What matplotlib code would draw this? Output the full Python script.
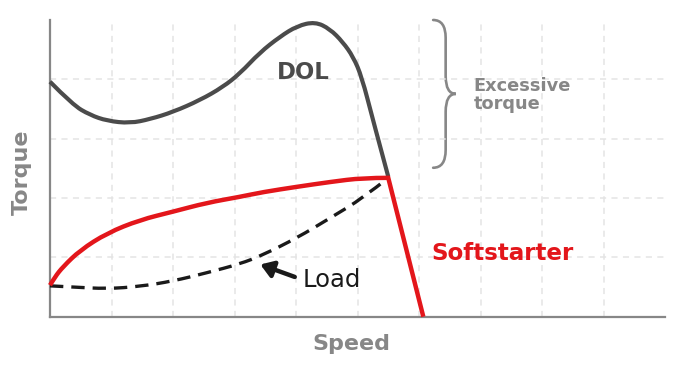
import matplotlib.pyplot as plt
from matplotlib.path import Path
from matplotlib.patches import PathPatch

# curves (speed, torque)
dol_speed = [0.00, 0.37, 0.65, 0.93, 1.30, 1.63, 2.00, 2.44, 2.81, 3.09, 3.41, 3.74,
             4.02, 4.31, 4.55, 4.76, 4.93, 5.07, 5.25, 5.50]
dol_torque = [3.96, 3.57, 3.40, 3.30, 3.26, 3.33, 3.45, 3.65, 3.87, 4.10, 4.45, 4.72,
              4.90, 4.97, 4.85, 4.63, 4.38, 4.04, 3.32, 2.36]

soft_speed = [0.00, 0.08, 0.21, 0.49, 0.93, 1.46, 2.00, 2.55, 3.09, 3.46, 4.02, 4.55,
              5.09, 5.50, 6.07]
soft_torque = [0.53, 0.67, 0.84, 1.12, 1.41, 1.63, 1.77, 1.92, 2.02, 2.10, 2.19, 2.27,
               2.34, 2.34, 0.00]

load_speed = [0.00, 0.37, 0.93, 1.46, 2.00, 2.55, 3.09, 3.46, 4.02, 4.55, 5.09, 5.50]
load_torque = [0.52, 0.50, 0.47, 0.51, 0.60, 0.74, 0.89, 1.04, 1.33, 1.66, 2.00, 2.34]

red = '#e3161b'
dark = '#4b4b4b'
grey = '#878787'
font = 'DejaVu Sans'


def smooth(xs, ys, tail=None):
    # quadratic spline through the read points, optional straight tail
    pts = list(zip(xs, ys))
    verts = [pts[0]]
    codes = [Path.MOVETO]
    for i in range(1, len(pts) - 1):
        nxt = pts[i + 1] if i + 1 == len(pts) - 1 else (
            (pts[i][0] + pts[i + 1][0]) / 2, (pts[i][1] + pts[i + 1][1]) / 2)
        verts += [pts[i], nxt]
        codes += [Path.CURVE3, Path.CURVE3]
    if tail:
        for p in tail:
            verts.append(p)
            codes.append(Path.LINETO)
    return Path(verts, codes)


fig = plt.figure(figsize=(6.76, 3.68), dpi=100)
ax = fig.add_axes([50 / 676, 51.3 / 368, 615 / 676, 296.7 / 368])
ax.set_xlim(0, 10)
ax.set_ylim(0, 5)

ax.set_xticks(range(1, 10))
ax.set_yticks(range(1, 5))
ax.tick_params(length=0, labelbottom=False, labelleft=False)
ax.grid(True, color='#e4e4e4', linestyle=(0, (4, 3.5)), linewidth=1.1)
for s in ['top', 'right']:
    ax.spines[s].set_visible(False)
for s in ['left', 'bottom']:
    ax.spines[s].set_color(grey)
    ax.spines[s].set_linewidth(1.6)

ax.add_patch(PathPatch(smooth(dol_speed, dol_torque), fill=False, edgecolor=dark,
                       lw=3.0, capstyle='butt', clip_on=False, zorder=3))
ax.add_patch(PathPatch(smooth(load_speed, load_torque), fill=False, edgecolor='#1a1a1a',
                       lw=2.4, linestyle=(0, (4.0, 2.4)), capstyle='butt',
                       clip_on=False, zorder=3))
ax.add_patch(PathPatch(smooth(soft_speed[:-1], soft_torque[:-1],
                              tail=[(soft_speed[-1], soft_torque[-1])]),
                       fill=False, edgecolor=red, lw=3.2, joinstyle='miter',
                       capstyle='butt', clip_on=False, zorder=4))

ax.text(3.69, 4.0, 'DOL', color=dark, fontsize=16.4, fontweight='bold', family=font)
ax.text(6.20, 0.96, 'Softstarter', color=red, fontsize=16.6, fontweight='bold', family=font)
ax.text(4.11, 0.50, 'Load', color='#1a1a1a', fontsize=17.5, family=font)
ax.text(6.89, 3.74, 'Excessive\ntorque', color=grey, fontsize=12.8, fontweight='bold',
        family=font, va='center', linespacing=1.0)

ax.annotate('', xy=(3.42, 0.88), xytext=(3.98, 0.67),
            arrowprops=dict(arrowstyle='-|>,head_length=0.75,head_width=0.5',
                            color='#1a1a1a', lw=3.2, shrinkA=0, shrinkB=0))

# curly brace next to the excessive torque region
bx, top, bot, w = 6.23, 5.0, 2.51, 0.37
mid = (top + bot) / 2
verts = [(bx, top), (bx + w * 0.55, top), (bx + w * 0.55, top - 0.3),
         (bx + w * 0.55, mid + 0.3),
         (bx + w * 0.55, mid), (bx + w, mid),
         (bx + w * 0.55, mid), (bx + w * 0.55, mid - 0.3),
         (bx + w * 0.55, bot + 0.3),
         (bx + w * 0.55, bot), (bx, bot)]
codes = [Path.MOVETO, Path.CURVE3, Path.CURVE3, Path.LINETO,
         Path.CURVE3, Path.CURVE3, Path.CURVE3, Path.CURVE3,
         Path.LINETO, Path.CURVE3, Path.CURVE3]
ax.add_patch(PathPatch(Path(verts, codes), fill=False, edgecolor=grey, lw=1.9,
                       capstyle='round', clip_on=False))

ax.set_xlabel('Speed', color=grey, fontsize=16, fontweight='bold', family=font, va='baseline')
ax.xaxis.set_label_coords(0.49, -0.112)
ax.set_ylabel('Torque', color=grey, fontsize=16, fontweight='bold', family=font, va='center')
ax.yaxis.set_label_coords(-0.0455, 0.488)

fig.savefig('out.png', dpi=100)
